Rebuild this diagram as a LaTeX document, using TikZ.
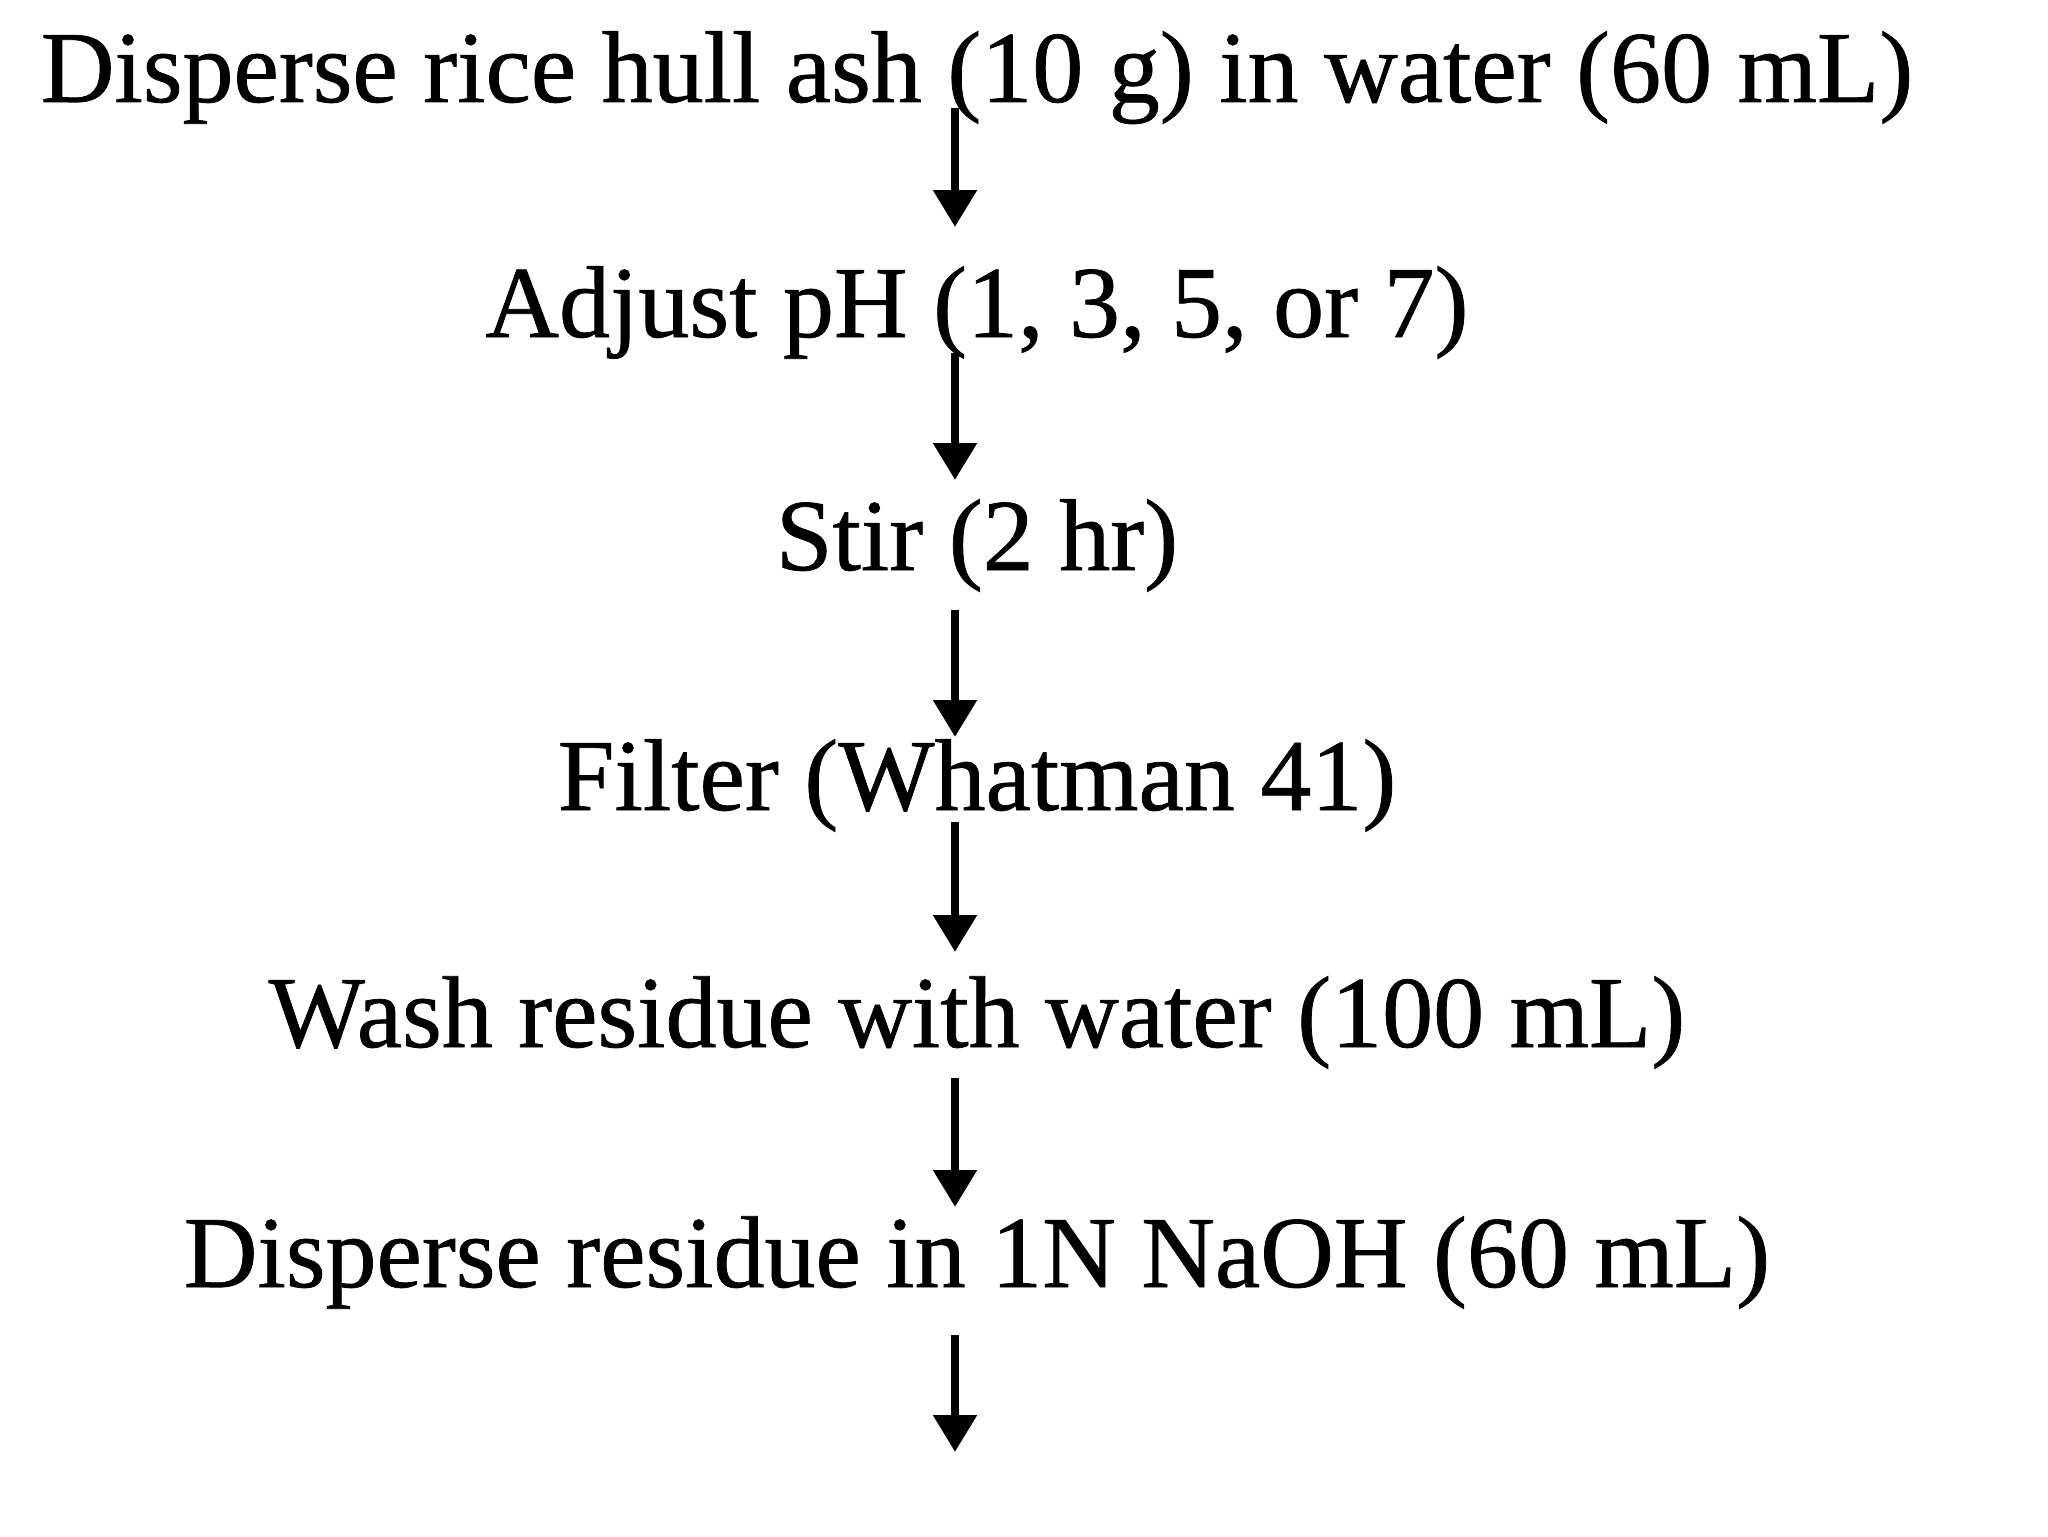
\documentclass[tikz,border=0pt]{standalone}
\usepackage{fontspec}
\setmainfont{Liberation Serif}
\newfontfamily\scanfont[FakeBold=0.7]{Liberation Serif}
\usetikzlibrary{arrows.meta}
\begin{document}
\begin{tikzpicture}[x=0.5pt,y=-0.5pt,
  steptext/.style={anchor=base, inner sep=0pt, font=\scanfont\fontsize{51}{60}\selectfont},
  flow/.style={line width=4.25pt, -{Triangle[width=21pt,length=18.5pt]}}]
\useasboundingbox (0,0) rectangle (2048,1536);
\node[steptext] (n1) at (977,102) {Disperse rice hull ash (10 g) in water (60 mL)};
\node[steptext] (n2) at (977,337) {Adjust pH (1, 3, 5, or 7)};
\node[steptext] (n3) at (977,570) {Stir (2 hr)};
\node[steptext] (n4) at (977,810) {Filter (Whatman 41)};
\node[steptext] (n5) at (977,1047) {Wash residue with water (100 mL)};
\node[steptext] (n6) at (977,1287) {Disperse residue in 1N NaOH (60 mL)};
\coordinate (nend) at (955,1452);
\draw[flow] ([shift={(-22,6)}]n1.base) -- ([shift={(-22,-110)}]n2.base);
\draw[flow] ([shift={(-22,16)}]n2.base) -- ([shift={(-22,-90)}]n3.base);
\draw[flow] ([shift={(-22,40)}]n3.base) -- ([shift={(-22,-73)}]n4.base);
\draw[flow] ([shift={(-22,12)}]n4.base) -- ([shift={(-22,-95)}]n5.base);
\draw[flow] ([shift={(-22,31)}]n5.base) -- ([shift={(-22,-80)}]n6.base);
\draw[flow] ([shift={(-22,48)}]n6.base) -- (nend);
\end{tikzpicture}
\end{document}
